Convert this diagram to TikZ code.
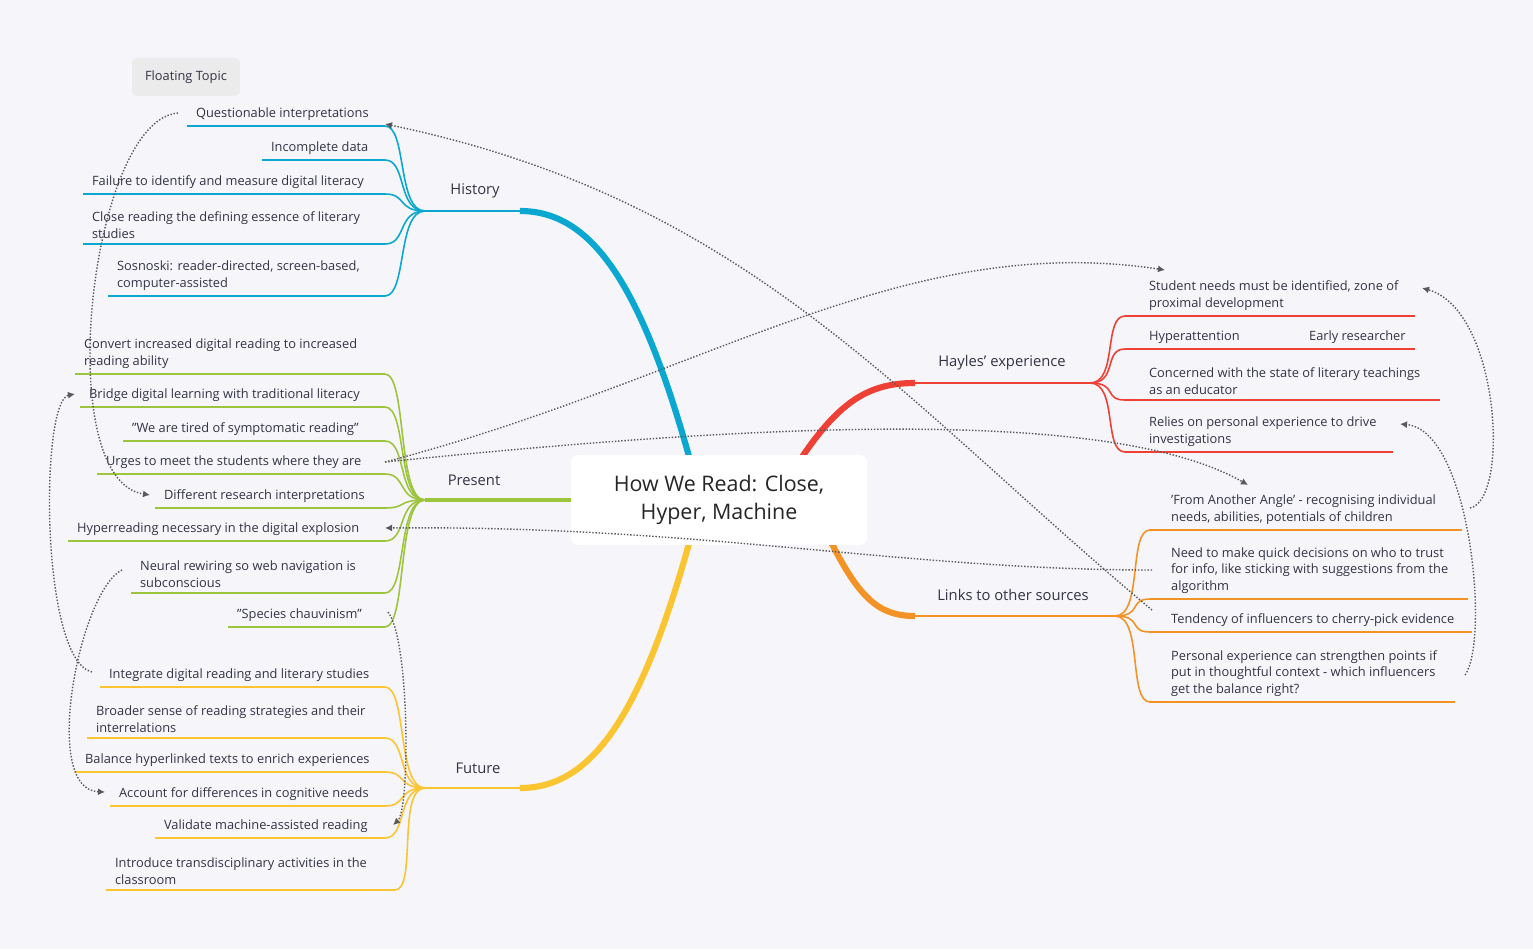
\documentclass[tikz,border=0pt]{standalone}
\usepackage{fontspec}
\setmainfont{Open Sans}
\usetikzlibrary{arrows.meta,positioning}
\definecolor{bgc}{HTML}{F5F5FA}
\definecolor{hist}{HTML}{0AA8D0}
\definecolor{pres}{HTML}{9CC43C}
\definecolor{futr}{HTML}{FBC531}
\definecolor{hayl}{HTML}{EE4035}
\definecolor{lnks}{HTML}{F39325}
\definecolor{txt}{HTML}{333344}
\tikzset{
  leaf/.style={anchor=south west,inner sep=1pt,font=\fontsize{7.3}{9.6}\selectfont,text=txt,align=left},
  branch/.style={inner sep=1pt,font=\fontsize{8.4}{10}\selectfont,text=txt},
  rel/.style={densely dotted,draw=black!65,line width=0.8pt},
  tip/.style={-{Latex[length=4pt,width=4pt]}},
}
\def\lx{7}
% #1 name, #2 colour, #3 left x, #4 right x, #5 underline y, #6 text
\newcommand\leaf[6]{%
  \coordinate (#1-l) at (#3,#5);
  \coordinate (#1-r) at (#4,#5);
  \draw[#2,line width=0.9pt] (#1-l) -- (#1-r);
  \node[leaf] (#1) at ([shift={(\lx,-3)}]#1-l) {#6};}
\begin{document}
\begin{tikzpicture}[x=0.02cm,y=-0.02cm]
\fill[bgc] (0,0) rectangle (1533,949);
\useasboundingbox (0,0) rectangle (1533,949);

% floating topic
\node[fill=black!8,rounded corners=3pt,minimum width=2.16cm,minimum height=0.76cm,
  font=\fontsize{7.3}{9}\selectfont,text=txt] (float) at (186,77) {Floating Topic};

% junctions
\coordinate (hj) at (425,211);
\coordinate (pj) at (425,500);
\coordinate (fj) at (425,788);
\coordinate (yj) at (1090,383);
\coordinate (kj) at (1115,616);

% main branches
\draw[hist,line width=3.5pt] (690,460) .. controls (640,280) and (590,211) .. (520,211);
\draw[hist,line width=1.6pt] (520,211) -- (hj);
\draw[pres,line width=2.5pt] (575,500) -- (pj);
\draw[futr,line width=3.5pt] (690,540) .. controls (640,720) and (590,788) .. (520,788);
\draw[futr,line width=1.6pt] (520,788) -- (fj);
\draw[hayl,line width=3.5pt] (800,460) .. controls (840,400) and (870,383) .. (915,383);
\draw[hayl,line width=1.6pt] (915,383) -- (yj);
\draw[lnks,line width=3.5pt] (830,540) .. controls (860,600) and (880,616) .. (915,616);
\draw[lnks,line width=1.6pt] (915,616) -- (kj);

\node[branch] (history) at (475,191) {History};
\node[branch] (present) at (474,480) {Present};
\node[branch] (future) at (478,768) {Future};
\node[branch] (hayles) at (1002,363) {Hayles' experience};
\node[branch] (links) at (1013,595) {Links to other sources};

% history
\leaf{qi}{hist}{187}{385}{126}{Questionable interpretations}
\leaf{id}{hist}{262}{385}{160}{Incomplete data}
\leaf{fi}{hist}{83}{385}{194}{Failure to identify and measure digital literacy}
\leaf{cr}{hist}{83}{385}{244}{Close reading the defining essence of literary\\studies}
\leaf{so}{hist}{108}{385}{296}{Sosnoski: reader-directed, screen-based,\\computer-assisted}
\foreach \n in {qi,id,fi,cr,so}
  \draw[hist,line width=0.9pt] (hj) .. controls +(-28,0) and +(22,0) .. (\n-r);

% present
\leaf{cv}{pres}{75}{385}{374}{Convert increased digital reading to increased\\reading ability}
\leaf{bd}{pres}{80}{385}{407}{Bridge digital learning with traditional literacy}
\leaf{wt}{pres}{123}{385}{441}{"We are tired of symptomatic reading"}
\leaf{ur}{pres}{97}{385}{474}{Urges to meet the students where they are}
\leaf{dr}{pres}{155}{385}{508}{Different research interpretations}
\leaf{hr}{pres}{68}{385}{541}{Hyperreading necessary in the digital explosion}
\leaf{nr}{pres}{131}{385}{593}{Neural rewiring so web navigation is\\subconscious}
\leaf{sc}{pres}{228}{385}{627}{"Species chauvinism"}
\foreach \n in {cv,bd,wt,ur,dr,hr,nr,sc}
  \draw[pres,line width=0.9pt] (pj) .. controls +(-28,0) and +(22,0) .. (\n-r);

% future
\leaf{ig}{futr}{100}{385}{687}{Integrate digital reading and literary studies}
\leaf{bs}{futr}{87}{385}{738}{Broader sense of reading strategies and their\\interrelations}
\leaf{bh}{futr}{76}{385}{772}{Balance hyperlinked texts to enrich experiences}
\leaf{ac}{futr}{110}{385}{806}{Account for differences in cognitive needs}
\leaf{vm}{futr}{155}{385}{838}{Validate machine-assisted reading}
\leaf{it}{futr}{106}{395}{890}{Introduce transdisciplinary activities in the\\classroom}
\foreach \n in {ig,bs,bh,ac,vm,it}
  \draw[futr,line width=0.9pt] (fj) .. controls +(-28,0) and +(22,0) .. (\n-r);

% hayles
\def\lx{22}
\leaf{sn}{hayl}{1125}{1415}{316}{Student needs must be identified, zone of\\proximal development}
\leaf{ha}{hayl}{1125}{1250}{349}{Hyperattention}
\def\lx{57}
\leaf{er}{hayl}{1250}{1415}{349}{Early researcher}
\def\lx{22}
\leaf{co}{hayl}{1125}{1440}{400}{Concerned with the state of literary teachings\\as an educator}
\leaf{rp}{hayl}{1125}{1393}{452}{Relies on personal experience to drive\\investigations}
\foreach \n in {sn,ha,co,rp}
  \draw[hayl,line width=0.9pt] (yj) .. controls +(28,0) and +(-22,0) .. (\n-l);

% links
\def\lx{19}
\leaf{fa}{lnks}{1150}{1462}{530}{'From Another Angle' - recognising individual\\needs, abilities, potentials of children}
\leaf{nq}{lnks}{1150}{1468}{599}{Need to make quick decisions on who to trust\\for info, like sticking with suggestions from the\\algorithm}
\leaf{tc}{lnks}{1150}{1472}{632}{Tendency of influencers to cherry-pick evidence}
\leaf{pe}{lnks}{1150}{1455}{702}{Personal experience can strengthen points if\\put in thoughtful context - which influencers\\get the balance right?}
\foreach \n in {fa,nq,tc,pe}
  \draw[lnks,line width=0.9pt] (kj) .. controls +(28,0) and +(-22,0) .. (\n-l);

% centre
\node[fill=white,rounded corners=4pt,minimum width=5.92cm,minimum height=1.8cm,
  align=center,font=\fontsize{12.2}{16}\selectfont,text=black!85] (main) at (719,500)
  {How We Read: Close,\\Hyper, Machine};

% relationships
\coordinate (r1a) at (178,113);
\coordinate (r1b) at (150,495);
\draw[rel,tip] (r1a) .. controls (90,120) and (50,480) .. (r1b);
\coordinate (r2a) at (385,124);
\coordinate (r2b) at (1152,610);
\draw[rel,tip] (r2b) .. controls (900,400) and (750,200) .. (r2a);
\coordinate (r3a) at (385,462);
\coordinate (r3b) at (1165,270);
\draw[rel,tip] (r3a) .. controls (700,380) and (900,230) .. (r3b);
\coordinate (r4b) at (1248,485);
\draw[rel,tip] (r3a) .. controls (700,430) and (1100,400) .. (r4b);
\coordinate (r5a) at (385,528);
\coordinate (r5b) at (1152,570);
\draw[rel,tip] (r5b) .. controls (900,570) and (700,525) .. (r5a);
\coordinate (r6a) at (75,394);
\coordinate (r6b) at (92,672);
\draw[rel,tip] (r6b) .. controls (40,660) and (40,400) .. (r6a);
\coordinate (r7a) at (122,570);
\coordinate (r7b) at (105,792);
\draw[rel,tip] (r7a) .. controls (80,590) and (40,790) .. (r7b);
\coordinate (r8a) at (388,612);
\coordinate (r8b) at (393,825);
\draw[rel,tip] (r8a) .. controls (410,640) and (410,810) .. (r8b);
\coordinate (r9a) at (1422,288);
\coordinate (r9b) at (1470,508);
\draw[rel,tip] (r9b) .. controls (1510,500) and (1500,310) .. (r9a);
\coordinate (r10a) at (1400,424);
\coordinate (r10b) at (1465,675);
\draw[rel,tip] (r10b) .. controls (1490,640) and (1470,430) .. (r10a);
\end{tikzpicture}
\end{document}
